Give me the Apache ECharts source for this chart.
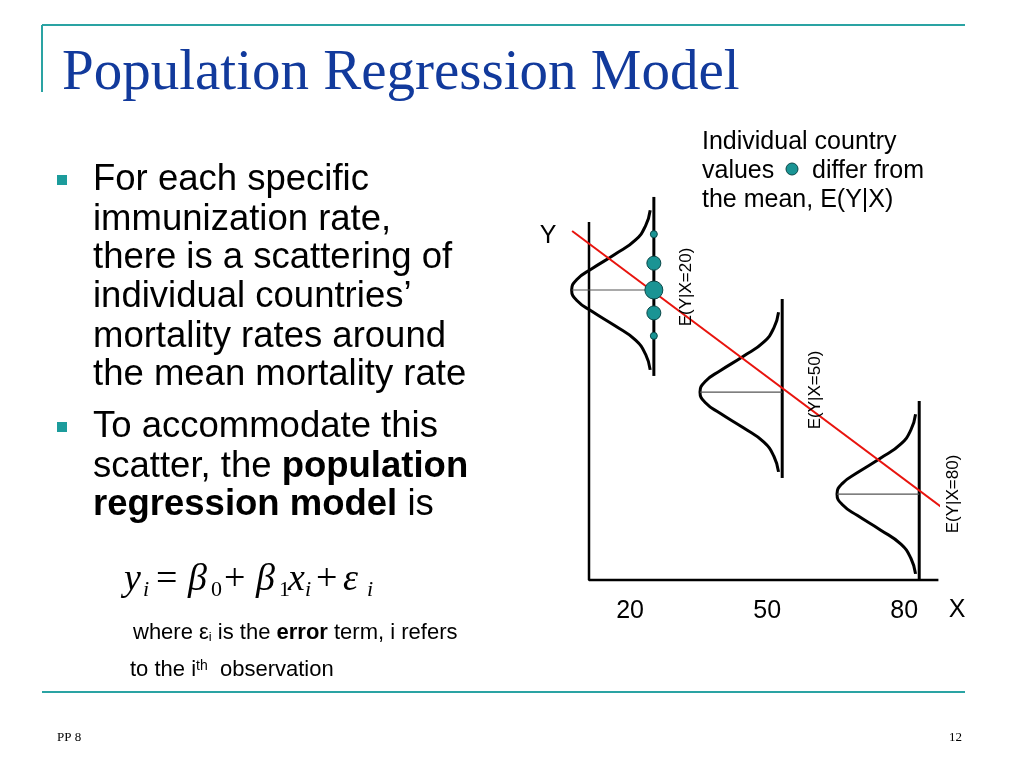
<!DOCTYPE html>
<html>
<head>
<meta charset="utf-8">
<script src="https://cdn.jsdelivr.net/npm/echarts@6/dist/echarts.min.js"></script>
<style>html,body{margin:0;padding:0;background:#fff;}#chart{width:1024px;height:768px;}</style>
</head>
<body>
<div id="chart"></div>
<script>
// x = immunization rate, y = mortality (arbitrary units)
var xTicks = [20, 50, 80];
var axisX0 = 11, axisX1 = 87.5, axisY1 = 100;
var distX = [25.2, 53.3, 83.3];          // vertical baseline of each distribution
var distMean = [81, 52.5, 24];            // E(Y|X) for each
var distLabels = ['E(Y|X=20)', 'E(Y|X=50)', 'E(Y|X=80)'];
var baseTop = 26, baseBottom = 24;        // baseline extent above/below mean
// bell profile: [offset in y, depth to the left in x]
var bellProfile = [[-22.3, 0.8], [-18, 1.8], [-14, 4], [-10, 8.5], [-6, 13.5], [-3, 16.8], [0, 18],
  [3, 16.8], [6, 13.5], [10, 8.5], [14, 4], [18, 1.8], [22.3, 0.8]];
var bellDepth = 18;
var pointsY = [96.6, 88.5, 81, 74.6, 68.2];
var pointsSize = [7, 14, 18, 14, 7];
var regLine = [[7.3, 97.5], [89, 19.6]];

var chart = echarts.init(document.getElementById('chart'));
var series = [];
// axes drawn as lines
series.push({ type: 'line', data: [[axisX0, axisY1], [axisX0, 0], [axisX1, 0]], symbol: 'none',
  lineStyle: { color: '#000', width: 2.5 }, silent: true, clip: false });
distX.forEach(function (lx, i) {
  var m = distMean[i];
  series.push({ type: 'line', data: [[lx, m + baseTop], [lx, m - baseBottom]], symbol: 'none',
    lineStyle: { color: '#000', width: 3 }, clip: false, silent: true });
  series.push({ type: 'line', smooth: 0.5, symbol: 'none', clip: false, silent: true,
    data: bellProfile.map(function (p) { return [lx - p[1], m + p[0]]; }),
    lineStyle: { color: '#000', width: 3 } });
  series.push({ type: 'line', data: [[lx - bellDepth, m], [lx, m]], symbol: 'none',
    lineStyle: { color: '#555', width: 1.2 }, silent: true });
});
series.push({ type: 'line', data: regLine, symbol: 'none', clip: false,
  lineStyle: { color: '#e8140e', width: 2 }, silent: true, z: 5 });
series.push({ type: 'scatter', z: 6, clip: false,
  data: pointsY.map(function (y, i) { return { value: [distX[0], y], symbolSize: pointsSize[i] }; }),
  itemStyle: { color: '#1a9494', borderColor: '#0a4747', borderWidth: 1, opacity: 1 } });

var sans = '"Liberation Sans", Arial, sans-serif';
var serif = '"Liberation Serif", "Times New Roman", serif';
function txt(x, y, s, size, opts) {
  opts = opts || {};
  return { type: 'text', x: x, y: y, rotation: opts.rot || 0, z: 10,
    style: { text: s, fill: opts.color || '#000', align: opts.align || 'left', verticalAlign: opts.va || 'middle',
      font: (opts.style || '') + ' ' + (opts.weight || '') + ' ' + size + 'px ' + (opts.family || sans), rich: opts.rich } };
}
var B = 36.5;
var bulletRich = { b: { fontWeight: 'bold', fontSize: B, fontFamily: sans } };
function fm(x, y, s, size, italic) {
  return txt(x, y, s, size, { family: serif, style: italic ? 'italic' : '' });
}
var graphics = [
  { type: 'line', shape: { x1: 42, y1: 25, x2: 965, y2: 25 }, style: { stroke: '#2aa3a3', lineWidth: 2 } },
  { type: 'line', shape: { x1: 42, y1: 25, x2: 42, y2: 92 }, style: { stroke: '#2aa3a3', lineWidth: 2 } },
  { type: 'line', shape: { x1: 42, y1: 692, x2: 965, y2: 692 }, style: { stroke: '#2aa3a3', lineWidth: 2 } },
  txt(62, 74, 'Population Regression Model', 57, { family: serif, color: '#123a9c' }),
  { type: 'rect', shape: { x: 57, y: 175, width: 10, height: 10 }, style: { fill: '#1c9c9c' } },
  { type: 'rect', shape: { x: 57, y: 422, width: 10, height: 10 }, style: { fill: '#1c9c9c' } },
  txt(93, 180, 'For each specific', B),
  txt(93, 220, 'immunization rate,', B),
  txt(93, 258, 'there is a scattering of', B),
  txt(93, 297, 'individual countries\u2019', B),
  txt(93, 337, 'mortality rates around', B),
  txt(93, 375, 'the mean mortality rate', B),
  txt(93, 427, 'To accommodate this', B),
  txt(93, 467, 'scatter, the {b|population}', B, { rich: bulletRich }),
  txt(93, 505, '{b|regression model} is', B, { rich: bulletRich }),
  txt(702, 142, 'Individual country', 25),
  txt(702, 171, 'values', 25),
  { type: 'circle', shape: { cx: 792, cy: 169, r: 6 }, style: { fill: '#1a9494', stroke: '#0a4747', lineWidth: 1 } },
  txt(812, 171, 'differ from', 25),
  txt(702, 200, 'the mean, E(Y|X)', 25),
  txt(548, 236, 'Y', 25, { align: 'center' }),
  txt(957, 610, 'X', 25, { align: 'center' }),
  txt(686, 287, distLabels[0], 17, { rot: Math.PI / 2, align: 'center' }),
  txt(815, 390, distLabels[1], 17, { rot: Math.PI / 2, align: 'center' }),
  txt(953, 494, distLabels[2], 17, { rot: Math.PI / 2, align: 'center' }),
  // formula
  fm(124, 580, 'y', 38, true),
  fm(143, 590, 'i', 22, true),
  fm(156, 580, '=', 38),
  fm(188, 580, '\u03b2', 38, true),
  fm(211, 590, '0', 22),
  fm(224, 580, '+', 38),
  fm(256, 580, '\u03b2', 38, true),
  fm(279, 590, '1', 22),
  fm(288, 580, 'x', 38, true),
  fm(305, 590, 'i', 22, true),
  fm(316, 580, '+', 38),
  fm(343, 580, '\u03b5', 38, true),
  fm(367, 590, 'i', 22, true),
  txt(133, 633, 'where \u03b5{s|i} is the {b|error} term, i refers', 22,
    { rich: { s: { fontSize: 13, fontFamily: sans, padding: [8, 0, 0, 0] }, b: { fontWeight: 'bold', fontSize: 22, fontFamily: sans } } }),
  txt(130, 670, 'to the i{u|th}  observation', 22,
    { rich: { u: { fontSize: 14, fontFamily: sans, padding: [0, 0, 8, 0] } } }),
  txt(57, 738, 'PP 8', 13, { family: serif }),
  txt(962, 738, '12', 13, { family: serif, align: 'right' })
];

chart.setOption({
  animation: false,
  grid: { left: 561.6, top: 222, width: 376.8, height: 358 },
  xAxis: { type: 'value', min: 5, max: axisX1, splitLine: { show: false }, axisTick: { show: false },
    axisLine: { show: false },
    axisLabel: { customValues: xTicks, color: '#000', fontSize: 25, fontFamily: sans, margin: 19 } },
  yAxis: { type: 'value', min: 0, max: axisY1, splitLine: { show: false }, axisTick: { show: false },
    axisLabel: { show: false }, axisLine: { show: false } },
  series: series,
  graphic: graphics
});
</script>
</body>
</html>
